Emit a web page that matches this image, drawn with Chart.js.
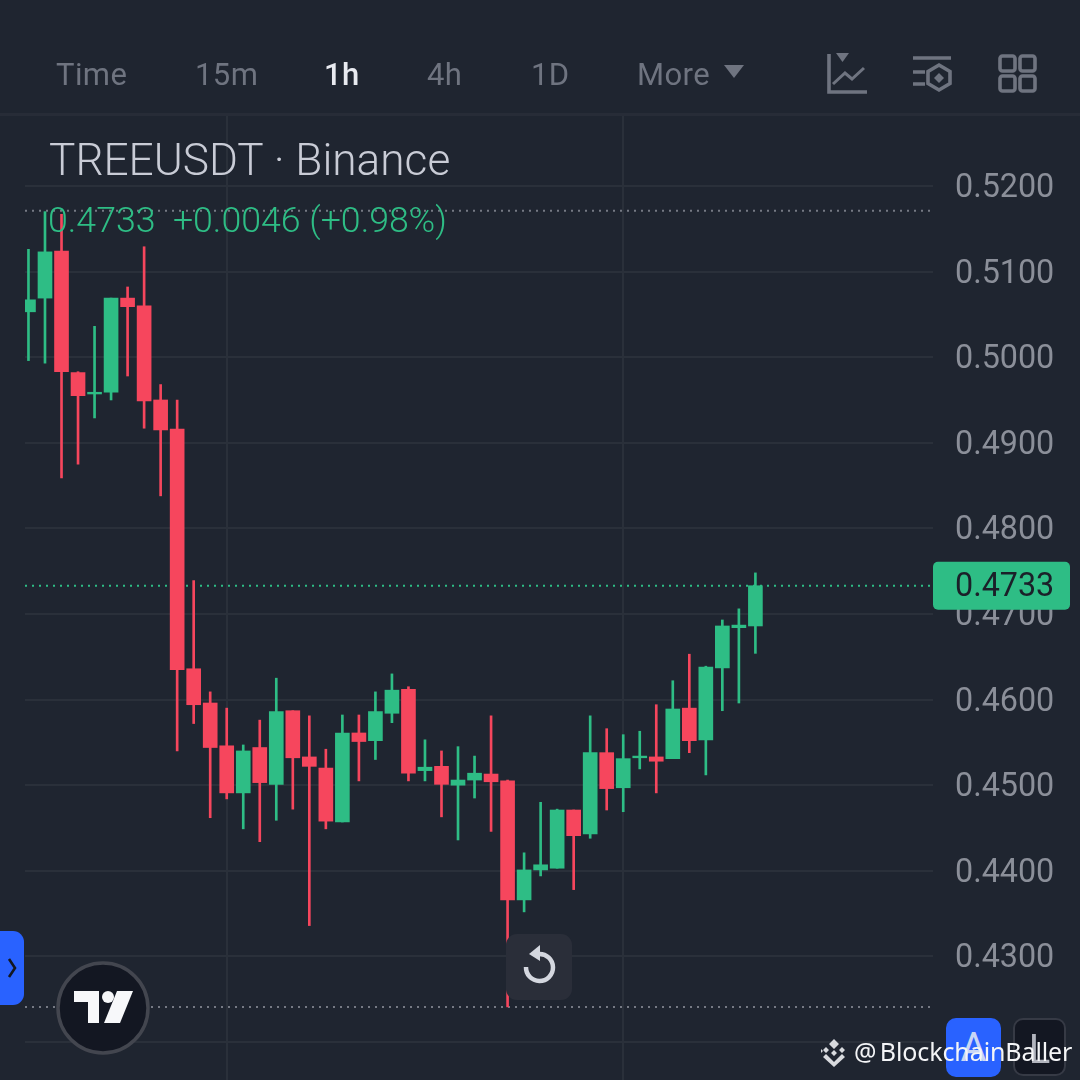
<!DOCTYPE html>
<html>
<head>
<meta charset="utf-8">
<title>TREEUSDT</title>
<script src="https://cdn.jsdelivr.net/npm/chart.js@4/dist/chart.umd.min.js"></script>
<style>
	html, body { margin: 0; padding: 0; background: #1f2530; }
	#wrap { position: relative; width: 1080px; height: 1080px; overflow: hidden; font-family: Roboto, sans-serif; }
	#chart { position: absolute; left: 0; top: 0; }
	.txt { position: absolute; white-space: nowrap; line-height: 1; }
	.tf { top: 59px; font-size: 31px; color: #6f7480; letter-spacing: 0.4px; }
	#title { left: 49px; top: 138px; font-size: 44.2px; font-weight: 300; color: #c9ccd6; }
	#quote { left: 48px; top: 203px; font-size: 35.7px; font-weight: 300; color: #2ebd85; }
	#sep { position: absolute; left: 0; top: 113px; width: 1080px; height: 3px; background: #272c37; }
	#tab { position: absolute; left: 0; top: 931px; width: 24px; height: 74px; background: #2962ff; border-radius: 0 11px 11px 0; }
	#restore { position: absolute; left: 506px; top: 934px; width: 66px; height: 66px; background: #2a2e39; border-radius: 11px; }
	#btnA { position: absolute; left: 946px; top: 1018px; width: 55px; height: 59px; background: #2962ff; border-radius: 10px; overflow: hidden; color: #c9d6f5; font-size: 40px; text-align: center; line-height: 60px; }
	#btnL { position: absolute; left: 1013px; top: 1018px; width: 53px; height: 58px; background: #131722; border: 2px solid #363a45; border-radius: 10px; box-sizing: border-box; overflow: hidden; color: #b2b5be; font-size: 40px; text-align: center; line-height: 60px; }
	#mark { left: 854px; top: 1039px; font-family: "Noto Sans", sans-serif; font-size: 25px; color: #f4f5f7; word-spacing: -3px; letter-spacing: -0.1px; }
	svg { position: absolute; }
</style>
</head>
<body>
<div id="wrap">
	<canvas id="chart" width="1080" height="1080"></canvas>
	<div id="sep"></div>

	<div class="txt tf" style="left:56px">Time</div>
	<div class="txt tf" style="left:195px">15m</div>
	<div class="txt tf" style="left:324px;color:#e8eaf0;font-weight:500">1h</div>
	<div class="txt tf" style="left:427px">4h</div>
	<div class="txt tf" style="left:531px">1D</div>
	<div class="txt tf" style="left:637px">More</div>
	<svg style="left:720px;top:62px" width="28" height="20"><path d="M4 3H24L14 16Z" fill="#6f7480"/></svg>

	<svg style="left:820px;top:48px" width="230" height="50" fill="none" stroke="#6f7480" stroke-width="3.6">
		<path d="M9 6V44H47"/>
		<path d="M16 5H29L22.5 14Z" fill="#6f7480" stroke="none"/>
		<path d="M13 36L25 25L32 31L44 20" stroke-width="3"/>
		<path d="M93 10H131M93 24H105M93 36H105"/>
		<path d="M119 17L130 23.5V35.5L119 42L108 35.5V23.5Z"/>
		<path d="M119 25L124 30L119 35L114 30Z" fill="#6f7480" stroke="none"/>
		<rect x="180" y="8" width="15" height="15" rx="2.5"/>
		<rect x="200" y="8" width="15" height="15" rx="2.5"/>
		<rect x="180" y="28" width="15" height="15" rx="2.5"/>
		<rect x="200" y="28" width="15" height="15" rx="2.5"/>
	</svg>

	<div class="txt" id="title">TREEUSDT · Binance</div>
	<div class="txt" id="quote">0.4733&nbsp; +0.0046 (+0.98%)</div>

	<div id="tab"></div>
	<svg style="left:0;top:950px" width="24" height="36" fill="none" stroke="#131722" stroke-width="2.6"><path d="M9 9L15 18L9 27"/></svg>

	<svg style="left:55px;top:960px" width="96" height="96">
		<circle cx="48" cy="48" r="45" fill="#131722" stroke="#43464f" stroke-width="3.5"/>
		<path d="M19 31H44V63H33V42H19Z" fill="#f7f8fa"/>
		<circle cx="53" cy="37" r="6" fill="#f7f8fa"/>
		<path d="M62 31H78L65 63H49Z" fill="#f7f8fa"/>
	</svg>

	<div id="restore"></div>
	<svg style="left:506px;top:934px" width="66" height="66" fill="none" stroke="#d4d7df" stroke-width="4.5">
		<path d="M33 20A13.5 13.5 0 1 1 20 33" />
		<path d="M34 11V27L23 20Z" fill="#d4d7df" stroke="none"/>
	</svg>

	<div id="btnA">A</div>
	<div id="btnL">L</div>

	<svg style="left:820px;top:1038px" width="30" height="30" fill="#d8dade">
		<path d="M14 1L19 6L14 11L9 6Z M6 9L9 12L6 15L3 12Z M22 9L25 12L22 15L19 12Z M14 12L17 15L14 18L11 15Z M6 16L14 24L22 16L25 19L14 29L3 19Z M1 11L3 13L1 15Z"/>
	</svg>
	<div class="txt" id="mark">@ BlockchainBaller</div>
</div>

<script>
// 1h candles
const opens = [
	0.5053, 0.5069, 0.5124, 0.4982, 0.4957, 0.4959, 0.5069, 0.5060, 0.4950,
	0.4916, 0.4636, 0.4596, 0.4546, 0.4491, 0.4544, 0.4501, 0.4587, 0.4533,
	0.4520, 0.4457, 0.4561, 0.4552, 0.4584, 0.4612, 0.4517, 0.4522, 0.4500,
	0.4506, 0.4513, 0.4505, 0.4366, 0.4401, 0.4403, 0.4471, 0.4443, 0.4538,
	0.4497, 0.4532, 0.4533, 0.4531, 0.4590, 0.4553, 0.4637, 0.4684, 0.4686
];
const highs = [
	0.5126, 0.5170, 0.5167, 0.4983, 0.5036, 0.5069, 0.5082, 0.5129, 0.4968,
	0.4950, 0.4739, 0.4609, 0.4590, 0.4547, 0.4576, 0.4625, 0.4587, 0.4581,
	0.4542, 0.4582, 0.4582, 0.4609, 0.4630, 0.4615, 0.4553, 0.4540, 0.4545,
	0.4534, 0.4581, 0.4506, 0.4421, 0.4480, 0.4472, 0.4471, 0.4581, 0.4566,
	0.4559, 0.4563, 0.4594, 0.4622, 0.4653, 0.4639, 0.4693, 0.4706, 0.4748
];
const lows = [
	0.4996, 0.4993, 0.4859, 0.4875, 0.4929, 0.4950, 0.4978, 0.4917, 0.4838,
	0.4540, 0.4572, 0.4462, 0.4484, 0.4449, 0.4434, 0.4459, 0.4472, 0.4336,
	0.4449, 0.4457, 0.4505, 0.4530, 0.4573, 0.4505, 0.4505, 0.4463, 0.4436,
	0.4485, 0.4446, 0.4241, 0.4352, 0.4394, 0.4403, 0.4378, 0.4438, 0.4471,
	0.4469, 0.4519, 0.4491, 0.4531, 0.4538, 0.4512, 0.4587, 0.4596, 0.4654
];
const closes = [
	0.5067, 0.5123, 0.4983, 0.4955, 0.4959, 0.5069, 0.5059, 0.4949, 0.4915,
	0.4635, 0.4594, 0.4544, 0.4491, 0.4540, 0.4503, 0.4586, 0.4532, 0.4522,
	0.4458, 0.4561, 0.4551, 0.4586, 0.4611, 0.4514, 0.4521, 0.4501, 0.4506,
	0.4514, 0.4504, 0.4366, 0.4401, 0.4407, 0.4471, 0.4441, 0.4538, 0.4496,
	0.4531, 0.4534, 0.4528, 0.4589, 0.4552, 0.4638, 0.4686, 0.4687, 0.4733
];

const priceTicks = [0.52, 0.51, 0.50, 0.49, 0.48, 0.47, 0.46, 0.45, 0.44, 0.43, 0.42];
const tickLabels = ['0.5200', '0.5100', '0.5000', '0.4900', '0.4800', '0.4700', '0.4600', '0.4500', '0.4400', '0.4300', ''];
const timeTicks = [12, 36];

const lastPrice = 0.4733;
const highMark = 0.5171;
const lowMark = 0.4241;

const GREEN = '#2ebd85';
const RED = '#f6465d';
const GRID = '#2a303a';
const colors = closes.map((c, i) => c >= opens[i] ? GREEN : RED);

const xMin = -0.21, xMax = 54.75;
const yMin = 0.41556, yMax = 0.52829;

function flatLine(price, color) {
	return {
		type: 'line',
		data: [{x: xMin, y: price}, {x: xMax, y: price}],
		borderColor: color,
		borderWidth: 2,
		borderDash: [2, 5],
		pointRadius: 0,
		order: 3
	};
}

// green tag with last price over the axis
const priceTag = {
	id: 'priceTag',
	afterDraw(chart) {
		const ctx = chart.ctx;
		const y = chart.scales.y.getPixelForValue(lastPrice);
		ctx.save();
		ctx.fillStyle = GREEN;
		ctx.beginPath();
		ctx.roundRect(933, y - 24, 137, 48, 5);
		ctx.fill();
		ctx.fillStyle = '#1b2029';
		ctx.font = '32.3px Roboto';
		ctx.textAlign = 'left';
		ctx.textBaseline = 'middle';
		ctx.fillText(lastPrice.toFixed(4), 955, y + 2);
		ctx.restore();
	}
};

new Chart(document.getElementById('chart'), {
	type: 'bar',
	data: {
		datasets: [
			flatLine(highMark, '#767a84'),
			flatLine(lowMark, '#767a84'),
			flatLine(lastPrice, GREEN),
			{
				label: 'wick',
				data: highs.map((h, i) => ({x: i, y: [lows[i], h]})),
				backgroundColor: colors,
				barThickness: 2,
				grouped: false,
				order: 2
			},
			{
				label: 'body',
				data: opens.map((o, i) => ({x: i, y: [o, closes[i]]})),
				backgroundColor: colors,
				barThickness: 14,
				grouped: false,
				order: 1
			}
		]
	},
	options: {
		responsive: false,
		animation: false,
		events: [],
		layout: {padding: {left: 25, top: 115, right: 0, bottom: 0}},
		plugins: {legend: {display: false}, tooltip: {enabled: false}},
		scales: {
			x: {
				type: 'linear',
				min: xMin,
				max: xMax,
				offset: false,
				afterBuildTicks: s => { s.ticks = timeTicks.map(v => ({value: v})); },
				afterFit: s => { s.height = 0; },
				ticks: {display: false},
				grid: {color: GRID, lineWidth: 2, drawTicks: false, offset: false},
				border: {display: false}
			},
			y: {
				position: 'right',
				min: yMin,
				max: yMax,
				afterBuildTicks: s => { s.ticks = priceTicks.map(v => ({value: v})); },
				// tick padding must not eat into the plot height
				afterFit: s => { s.width = 147; s.paddingTop = 0; s.paddingBottom = 0; },
				ticks: {
					padding: 22,
					labelOffset: 3,
					color: '#8b8f99',
					font: {family: 'Roboto', size: 32.3},
					crossAlign: 'near',
					autoSkip: false,
					callback: (v, i) => tickLabels[i]
				},
				grid: {color: GRID, lineWidth: 2, drawTicks: false},
				border: {display: false}
			}
		}
	},
	plugins: [priceTag]
});
</script>
</body>
</html>
